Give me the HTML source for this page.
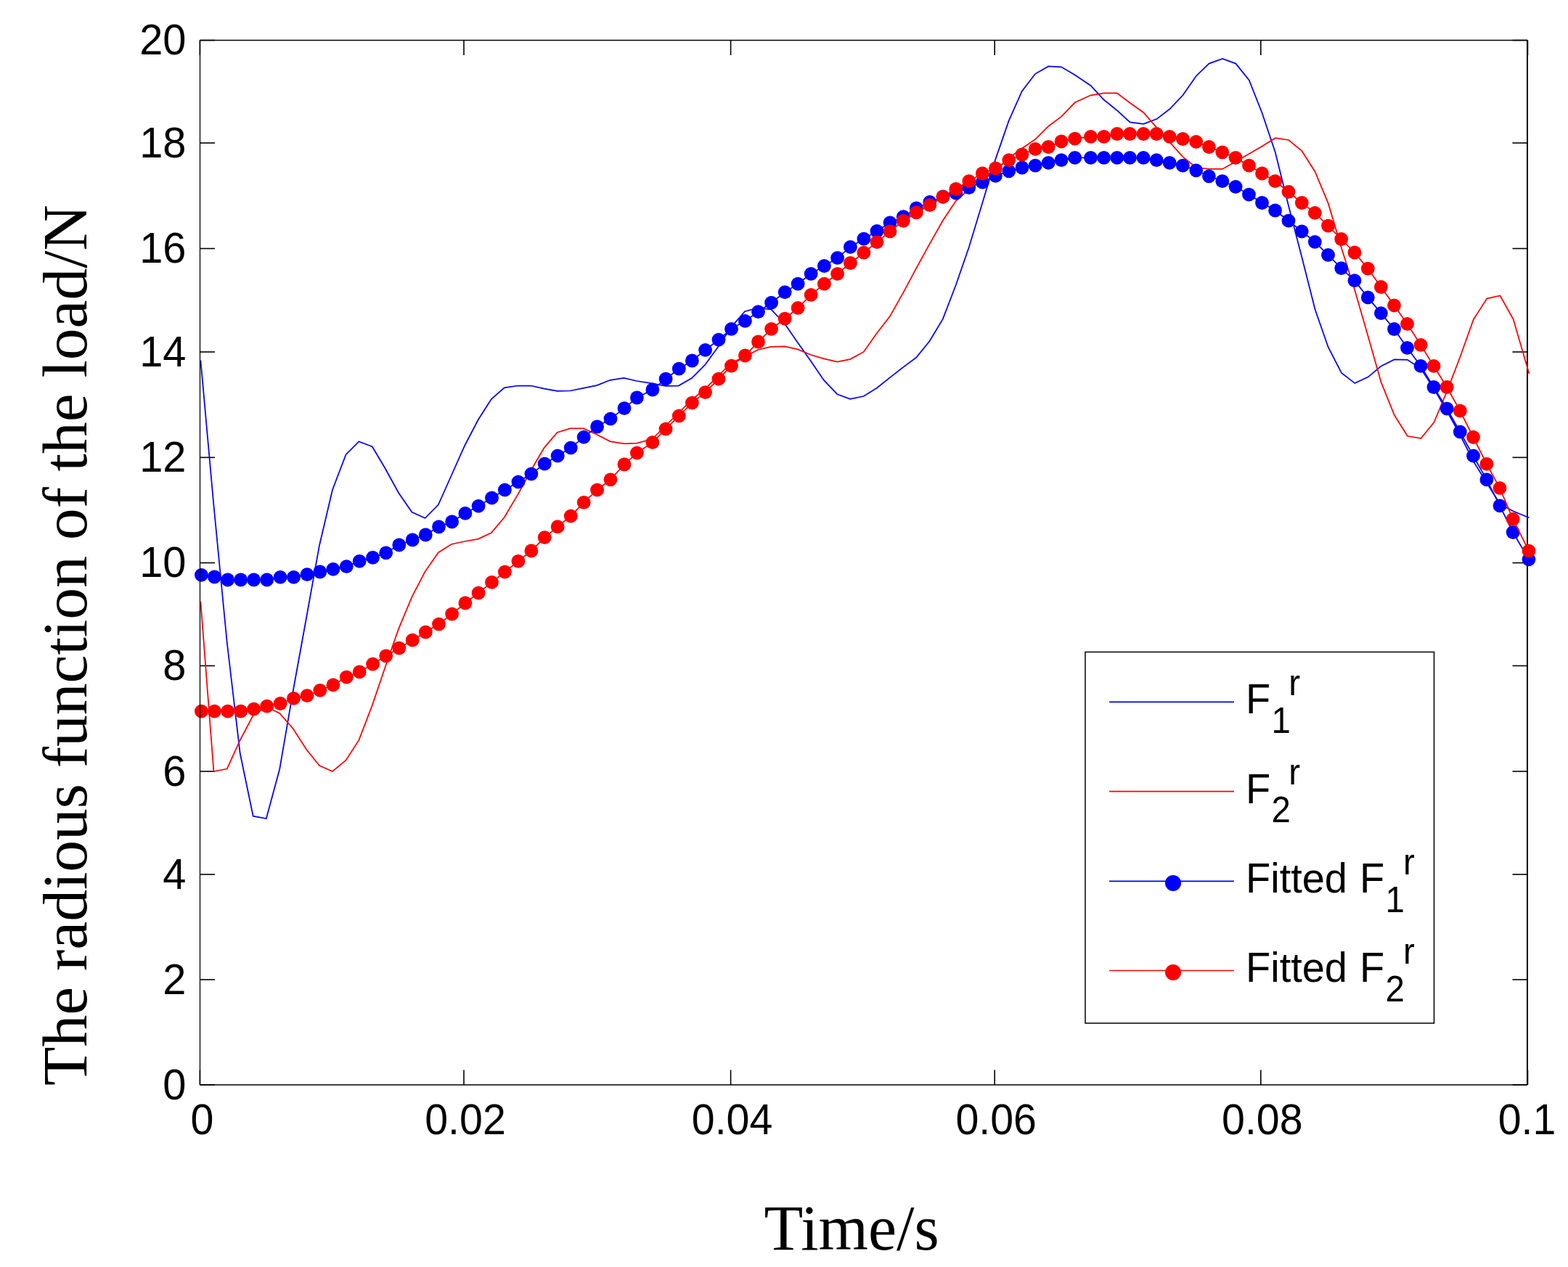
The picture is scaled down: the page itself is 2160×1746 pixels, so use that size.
<!DOCTYPE html>
<html><head><meta charset="utf-8"><title>Radious function of the load</title><style>
html,body{margin:0;padding:0;background:#fff;width:2160px;height:1746px;overflow:hidden}
svg{display:block}
.sans{font-family:"Liberation Sans",Arial,Helvetica,sans-serif}
.serif{font-family:"Liberation Serif","Times New Roman",Times,serif}
</style></head><body>
<svg width="2160" height="1746" viewBox="0 0 2160 1746">
<rect x="0" y="0" width="2160" height="1746" fill="#fff"/>
<g stroke="#000" fill="none">
<line x1="275.5" y1="55.5" x2="2104" y2="55.5" stroke-width="1.3"/>
<line x1="275.5" y1="1495" x2="2104" y2="1495" stroke-width="1.3"/>
<line x1="2104" y1="55.5" x2="2104" y2="1495" stroke-width="2"/>
<line x1="275.5" y1="55.5" x2="296.0" y2="55.5" stroke-width="1.6"/>
<line x1="2104" y1="55.5" x2="2083.5" y2="55.5" stroke-width="1.6"/>
<line x1="275.5" y1="197" x2="296.0" y2="197" stroke-width="1.6"/>
<line x1="2104" y1="197" x2="2083.5" y2="197" stroke-width="1.6"/>
<line x1="275.5" y1="342.5" x2="296.0" y2="342.5" stroke-width="1.6"/>
<line x1="2104" y1="342.5" x2="2083.5" y2="342.5" stroke-width="1.6"/>
<line x1="275.5" y1="485" x2="296.0" y2="485" stroke-width="1.6"/>
<line x1="2104" y1="485" x2="2083.5" y2="485" stroke-width="1.6"/>
<line x1="275.5" y1="630.4" x2="296.0" y2="630.4" stroke-width="1.6"/>
<line x1="2104" y1="630.4" x2="2083.5" y2="630.4" stroke-width="1.6"/>
<line x1="275.5" y1="775.6" x2="296.0" y2="775.6" stroke-width="1.6"/>
<line x1="2104" y1="775.6" x2="2083.5" y2="775.6" stroke-width="1.6"/>
<line x1="275.5" y1="917.5" x2="296.0" y2="917.5" stroke-width="1.6"/>
<line x1="2104" y1="917.5" x2="2083.5" y2="917.5" stroke-width="1.6"/>
<line x1="275.5" y1="1063" x2="296.0" y2="1063" stroke-width="1.6"/>
<line x1="2104" y1="1063" x2="2083.5" y2="1063" stroke-width="1.6"/>
<line x1="275.5" y1="1205" x2="296.0" y2="1205" stroke-width="1.6"/>
<line x1="2104" y1="1205" x2="2083.5" y2="1205" stroke-width="1.6"/>
<line x1="275.5" y1="1350" x2="296.0" y2="1350" stroke-width="1.6"/>
<line x1="2104" y1="1350" x2="2083.5" y2="1350" stroke-width="1.6"/>
<line x1="275.5" y1="1495" x2="296.0" y2="1495" stroke-width="1.6"/>
<line x1="2104" y1="1495" x2="2083.5" y2="1495" stroke-width="1.6"/>
<line x1="275.4" y1="1495" x2="275.4" y2="1474.5" stroke-width="1.6"/>
<line x1="275.4" y1="55.5" x2="275.4" y2="76.0" stroke-width="1.6"/>
<line x1="639" y1="1495" x2="639" y2="1474.5" stroke-width="1.6"/>
<line x1="639" y1="55.5" x2="639" y2="76.0" stroke-width="1.6"/>
<line x1="1006.6" y1="1495" x2="1006.6" y2="1474.5" stroke-width="1.6"/>
<line x1="1006.6" y1="55.5" x2="1006.6" y2="76.0" stroke-width="1.6"/>
<line x1="1370.2" y1="1495" x2="1370.2" y2="1474.5" stroke-width="1.6"/>
<line x1="1370.2" y1="55.5" x2="1370.2" y2="76.0" stroke-width="1.6"/>
<line x1="1736.8" y1="1495" x2="1736.8" y2="1474.5" stroke-width="1.6"/>
<line x1="1736.8" y1="55.5" x2="1736.8" y2="76.0" stroke-width="1.6"/>
<line x1="2104.5" y1="1495" x2="2104.5" y2="1474.5" stroke-width="1.6"/>
<line x1="2104.5" y1="55.5" x2="2104.5" y2="76.0" stroke-width="1.6"/>
</g>
<g fill="none" stroke-linejoin="miter" stroke-linecap="butt">
<polyline points="276.4,496.6 294.4,696.0 312.7,885.0 330.7,1038.0 348.7,1124.7 366.8,1128.0 385.2,1060.0 403.6,953.0 422.1,851.0 439.9,752.0 458.0,675.0 476.5,626.5 494.4,608.5 512.8,615.5 530.9,646.0 549.0,679.0 567.4,705.8 585.6,714.0 603.8,695.6 621.9,655.0 640.2,614.0 658.4,579.0 676.8,550.0 694.7,534.4 713.3,531.5 731.3,531.5 749.6,535.7 767.6,538.9 785.7,538.5 803.6,534.8 822.1,531.1 840.5,523.8 859.5,521.0 876.9,525.0 898.4,528.3 916.6,531.8 934.8,531.6 953.0,521.0 971.2,502.8 989.6,477.5 1007.1,451.0 1026.0,429.2 1044.1,424.4 1062.2,426.3 1080.9,446.0 1098.8,472.0 1116.9,497.6 1135.1,524.2 1153.3,543.2 1171.1,549.9 1189.7,546.0 1207.8,534.7 1225.8,520.4 1244.1,506.1 1262.1,492.8 1280.6,470.0 1298.8,439.6 1316.7,393.0 1334.7,341.0 1353.2,280.0 1371.3,219.6 1389.7,166.4 1407.8,125.6 1426.1,101.8 1444.2,91.4 1462.1,92.3 1480.7,103.3 1502.5,118.0 1520.6,137.5 1538.8,152.2 1556.5,168.3 1575.2,170.8 1593.3,164.1 1611.3,150.3 1629.4,131.3 1647.8,104.7 1665.5,87.6 1684.0,80.9 1702.3,87.6 1720.7,110.4 1738.7,156.0 1756.8,210.0 1775.2,284.3 1793.5,355.0 1811.6,426.5 1829.8,478.7 1848.0,513.9 1866.3,528.1 1884.6,519.6 1902.7,504.4 1920.8,495.5 1938.9,495.8 1957.5,508.2 1975.4,535.7 1993.6,567.0 2011.7,600.0 2029.9,636.0 2048.4,666.0 2066.5,694.8 2084.7,704.5 2106.5,713.5" stroke="#0000ff" stroke-width="1.75"/>
<polyline points="276.4,829.0 294.4,1063.0 312.7,1059.5 330.7,1020.0 348.7,985.8 366.8,974.0 385.2,983.0 403.6,1004.0 422.1,1032.8 439.9,1055.0 458.0,1063.0 476.5,1047.6 494.4,1019.9 512.8,971.9 530.9,918.5 549.0,866.9 567.4,822.7 585.6,787.6 603.8,761.5 621.9,750.0 640.2,746.0 658.4,742.8 676.8,734.2 694.7,713.0 713.3,681.6 731.3,648.5 749.6,617.1 767.6,596.0 785.7,590.4 803.6,590.4 822.1,598.7 840.5,608.3 859.5,611.4 876.9,610.8 898.4,605.0 916.6,587.0 934.8,569.0 953.0,551.0 971.2,536.0 989.6,518.0 1007.1,500.0 1026.0,491.7 1044.1,482.0 1062.2,477.8 1080.9,477.5 1098.8,481.4 1116.9,489.0 1135.1,494.4 1153.3,498.5 1171.1,495.1 1189.7,484.9 1207.8,459.3 1225.8,436.1 1244.1,403.6 1262.1,369.9 1280.6,336.1 1298.8,304.0 1316.7,277.0 1334.7,261.0 1353.2,247.2 1371.3,234.8 1389.7,217.7 1407.8,204.4 1426.1,192.1 1444.2,174.0 1462.1,160.7 1480.7,141.3 1502.5,131.3 1520.6,128.4 1538.8,128.4 1556.5,141.7 1575.2,155.0 1593.3,175.9 1611.3,195.9 1629.4,216.2 1647.8,231.0 1665.5,232.9 1684.0,232.9 1702.3,222.5 1720.7,212.0 1738.7,201.6 1756.8,190.2 1775.2,193.0 1793.5,208.2 1811.6,236.7 1829.8,280.4 1848.0,342.0 1866.3,399.9 1884.6,463.5 1902.7,527.2 1920.8,572.0 1938.9,601.0 1957.5,604.0 1975.4,582.0 1993.6,538.5 2011.7,491.0 2029.9,440.0 2048.4,411.3 2066.5,407.5 2084.7,440.0 2106.5,515.0" stroke="#ff0000" stroke-width="1.75"/>
<polyline points="277.4,792.3 295.4,795.0 313.7,799.0 331.7,799.0 349.6,799.0 367.7,799.0 386.1,795.4 404.5,795.4 423.0,791.7 440.8,788.0 458.9,784.3 477.3,780.6 495.2,773.3 513.6,768.3 531.7,761.8 549.8,751.0 568.2,744.0 586.3,737.0 604.5,726.0 622.6,719.0 640.9,707.4 659.1,697.3 677.5,686.2 695.4,675.2 713.9,664.1 731.9,653.1 750.2,639.2 768.2,628.2 786.3,617.1 804.2,602.4 822.6,588.0 841.0,577.1 860.0,562.6 877.4,548.0 898.9,537.0 917.1,522.2 935.3,508.2 953.4,497.0 971.6,482.3 990.0,468.1 1007.5,453.3 1026.4,442.3 1044.5,429.7 1062.6,417.2 1081.2,402.6 1099.1,391.2 1117.2,377.3 1135.4,366.5 1153.6,355.4 1171.4,340.4 1189.9,329.2 1208.0,318.5 1226.0,306.8 1244.3,298.7 1262.3,286.9 1280.8,278.5 1299.0,271.0 1316.8,266.0 1334.8,258.5 1353.3,251.0 1371.4,242.4 1389.8,235.8 1407.9,231.0 1426.2,228.2 1444.2,224.4 1462.1,220.6 1480.7,217.4 1502.5,217.4 1520.6,217.4 1538.8,217.4 1556.5,217.4 1575.1,217.4 1593.2,220.6 1611.2,224.4 1629.3,228.2 1647.7,234.8 1665.4,242.8 1683.8,249.7 1702.1,257.3 1720.5,268.1 1738.5,279.5 1756.6,290.0 1775.0,304.2 1793.3,318.8 1811.3,333.3 1829.5,351.4 1847.7,369.7 1866.0,386.7 1884.3,409.9 1902.4,431.6 1920.5,453.5 1938.5,479.3 1957.1,504.4 1975.0,533.5 1993.2,563.2 2011.3,595.2 2029.5,628.2 2047.9,660.9 2066.0,696.9 2084.2,733.5 2106.0,770.8" stroke="#0000ff" stroke-width="1.75"/>
<g fill="#0000ff" stroke="none"><circle cx="277.4" cy="792.3" r="9.4"/><circle cx="295.4" cy="795.0" r="9.4"/><circle cx="313.7" cy="799.0" r="9.4"/><circle cx="331.7" cy="799.0" r="9.4"/><circle cx="349.6" cy="799.0" r="9.4"/><circle cx="367.7" cy="799.0" r="9.4"/><circle cx="386.1" cy="795.4" r="9.4"/><circle cx="404.5" cy="795.4" r="9.4"/><circle cx="423.0" cy="791.7" r="9.4"/><circle cx="440.8" cy="788.0" r="9.4"/><circle cx="458.9" cy="784.3" r="9.4"/><circle cx="477.3" cy="780.6" r="9.4"/><circle cx="495.2" cy="773.3" r="9.4"/><circle cx="513.6" cy="768.3" r="9.4"/><circle cx="531.7" cy="761.8" r="9.4"/><circle cx="549.8" cy="751.0" r="9.4"/><circle cx="568.2" cy="744.0" r="9.4"/><circle cx="586.3" cy="737.0" r="9.4"/><circle cx="604.5" cy="726.0" r="9.4"/><circle cx="622.6" cy="719.0" r="9.4"/><circle cx="640.9" cy="707.4" r="9.4"/><circle cx="659.1" cy="697.3" r="9.4"/><circle cx="677.5" cy="686.2" r="9.4"/><circle cx="695.4" cy="675.2" r="9.4"/><circle cx="713.9" cy="664.1" r="9.4"/><circle cx="731.9" cy="653.1" r="9.4"/><circle cx="750.2" cy="639.2" r="9.4"/><circle cx="768.2" cy="628.2" r="9.4"/><circle cx="786.3" cy="617.1" r="9.4"/><circle cx="804.2" cy="602.4" r="9.4"/><circle cx="822.6" cy="588.0" r="9.4"/><circle cx="841.0" cy="577.1" r="9.4"/><circle cx="860.0" cy="562.6" r="9.4"/><circle cx="877.4" cy="548.0" r="9.4"/><circle cx="898.9" cy="537.0" r="9.4"/><circle cx="917.1" cy="522.2" r="9.4"/><circle cx="935.3" cy="508.2" r="9.4"/><circle cx="953.4" cy="497.0" r="9.4"/><circle cx="971.6" cy="482.3" r="9.4"/><circle cx="990.0" cy="468.1" r="9.4"/><circle cx="1007.5" cy="453.3" r="9.4"/><circle cx="1026.4" cy="442.3" r="9.4"/><circle cx="1044.5" cy="429.7" r="9.4"/><circle cx="1062.6" cy="417.2" r="9.4"/><circle cx="1081.2" cy="402.6" r="9.4"/><circle cx="1099.1" cy="391.2" r="9.4"/><circle cx="1117.2" cy="377.3" r="9.4"/><circle cx="1135.4" cy="366.5" r="9.4"/><circle cx="1153.6" cy="355.4" r="9.4"/><circle cx="1171.4" cy="340.4" r="9.4"/><circle cx="1189.9" cy="329.2" r="9.4"/><circle cx="1208.0" cy="318.5" r="9.4"/><circle cx="1226.0" cy="306.8" r="9.4"/><circle cx="1244.3" cy="298.7" r="9.4"/><circle cx="1262.3" cy="286.9" r="9.4"/><circle cx="1280.8" cy="278.5" r="9.4"/><circle cx="1299.0" cy="271.0" r="9.4"/><circle cx="1316.8" cy="266.0" r="9.4"/><circle cx="1334.8" cy="258.5" r="9.4"/><circle cx="1353.3" cy="251.0" r="9.4"/><circle cx="1371.4" cy="242.4" r="9.4"/><circle cx="1389.8" cy="235.8" r="9.4"/><circle cx="1407.9" cy="231.0" r="9.4"/><circle cx="1426.2" cy="228.2" r="9.4"/><circle cx="1444.2" cy="224.4" r="9.4"/><circle cx="1462.1" cy="220.6" r="9.4"/><circle cx="1480.7" cy="217.4" r="9.4"/><circle cx="1502.5" cy="217.4" r="9.4"/><circle cx="1520.6" cy="217.4" r="9.4"/><circle cx="1538.8" cy="217.4" r="9.4"/><circle cx="1556.5" cy="217.4" r="9.4"/><circle cx="1575.1" cy="217.4" r="9.4"/><circle cx="1593.2" cy="220.6" r="9.4"/><circle cx="1611.2" cy="224.4" r="9.4"/><circle cx="1629.3" cy="228.2" r="9.4"/><circle cx="1647.7" cy="234.8" r="9.4"/><circle cx="1665.4" cy="242.8" r="9.4"/><circle cx="1683.8" cy="249.7" r="9.4"/><circle cx="1702.1" cy="257.3" r="9.4"/><circle cx="1720.5" cy="268.1" r="9.4"/><circle cx="1738.5" cy="279.5" r="9.4"/><circle cx="1756.6" cy="290.0" r="9.4"/><circle cx="1775.0" cy="304.2" r="9.4"/><circle cx="1793.3" cy="318.8" r="9.4"/><circle cx="1811.3" cy="333.3" r="9.4"/><circle cx="1829.5" cy="351.4" r="9.4"/><circle cx="1847.7" cy="369.7" r="9.4"/><circle cx="1866.0" cy="386.7" r="9.4"/><circle cx="1884.3" cy="409.9" r="9.4"/><circle cx="1902.4" cy="431.6" r="9.4"/><circle cx="1920.5" cy="453.5" r="9.4"/><circle cx="1938.5" cy="479.3" r="9.4"/><circle cx="1957.1" cy="504.4" r="9.4"/><circle cx="1975.0" cy="533.5" r="9.4"/><circle cx="1993.2" cy="563.2" r="9.4"/><circle cx="2011.3" cy="595.2" r="9.4"/><circle cx="2029.5" cy="628.2" r="9.4"/><circle cx="2047.9" cy="660.9" r="9.4"/><circle cx="2066.0" cy="696.9" r="9.4"/><circle cx="2084.2" cy="733.5" r="9.4"/><circle cx="2106.0" cy="770.8" r="9.4"/></g>
<polyline points="277.4,980.2 295.4,980.2 313.7,980.2 331.7,980.2 349.6,977.1 367.7,973.2 386.1,969.5 404.5,962.4 423.0,958.7 440.8,951.3 458.9,943.9 477.3,933.2 495.2,925.9 513.6,915.2 531.7,903.8 549.8,893.1 568.2,882.2 586.3,871.1 604.5,860.1 622.6,846.1 640.9,831.0 659.1,817.1 677.5,802.4 695.4,788.2 713.9,773.4 731.9,759.0 750.2,740.6 768.2,725.9 786.3,711.1 804.2,692.3 822.6,675.2 841.0,660.8 860.0,640.0 877.4,624.1 898.9,609.7 917.1,591.2 935.3,573.2 953.4,555.1 971.6,540.6 990.0,522.2 1007.5,504.1 1026.4,490.0 1044.5,471.0 1062.6,453.3 1081.2,439.2 1099.1,424.4 1117.2,406.4 1135.4,391.2 1153.6,377.3 1171.4,362.5 1189.9,348.2 1208.0,333.6 1226.0,318.9 1244.3,304.3 1262.3,292.9 1280.8,282.7 1299.0,271.3 1316.8,260.5 1334.8,249.7 1353.3,239.0 1371.4,232.0 1389.8,220.6 1407.9,213.0 1426.2,205.4 1444.2,202.5 1462.1,194.9 1480.7,191.1 1502.5,188.3 1520.6,188.3 1538.8,184.5 1556.5,184.5 1575.1,184.5 1593.2,184.5 1611.2,188.3 1629.3,191.5 1647.7,195.3 1665.4,202.5 1683.8,209.8 1702.1,217.4 1720.5,228.2 1738.5,239.0 1756.6,249.7 1775.0,264.3 1793.3,279.5 1811.3,293.4 1829.5,311.2 1847.7,329.5 1866.0,348.0 1884.3,370.1 1902.4,395.5 1920.5,420.8 1938.5,446.4 1957.1,475.3 1975.0,504.4 1993.2,533.5 2011.3,566.2 2029.5,602.5 2047.9,639.4 2066.0,672.7 2084.2,715.5 2106.0,759.1" stroke="#ff0000" stroke-width="1.75"/>
<g fill="#ff0000" stroke="none"><circle cx="277.4" cy="980.2" r="9.4"/><circle cx="295.4" cy="980.2" r="9.4"/><circle cx="313.7" cy="980.2" r="9.4"/><circle cx="331.7" cy="980.2" r="9.4"/><circle cx="349.6" cy="977.1" r="9.4"/><circle cx="367.7" cy="973.2" r="9.4"/><circle cx="386.1" cy="969.5" r="9.4"/><circle cx="404.5" cy="962.4" r="9.4"/><circle cx="423.0" cy="958.7" r="9.4"/><circle cx="440.8" cy="951.3" r="9.4"/><circle cx="458.9" cy="943.9" r="9.4"/><circle cx="477.3" cy="933.2" r="9.4"/><circle cx="495.2" cy="925.9" r="9.4"/><circle cx="513.6" cy="915.2" r="9.4"/><circle cx="531.7" cy="903.8" r="9.4"/><circle cx="549.8" cy="893.1" r="9.4"/><circle cx="568.2" cy="882.2" r="9.4"/><circle cx="586.3" cy="871.1" r="9.4"/><circle cx="604.5" cy="860.1" r="9.4"/><circle cx="622.6" cy="846.1" r="9.4"/><circle cx="640.9" cy="831.0" r="9.4"/><circle cx="659.1" cy="817.1" r="9.4"/><circle cx="677.5" cy="802.4" r="9.4"/><circle cx="695.4" cy="788.2" r="9.4"/><circle cx="713.9" cy="773.4" r="9.4"/><circle cx="731.9" cy="759.0" r="9.4"/><circle cx="750.2" cy="740.6" r="9.4"/><circle cx="768.2" cy="725.9" r="9.4"/><circle cx="786.3" cy="711.1" r="9.4"/><circle cx="804.2" cy="692.3" r="9.4"/><circle cx="822.6" cy="675.2" r="9.4"/><circle cx="841.0" cy="660.8" r="9.4"/><circle cx="860.0" cy="640.0" r="9.4"/><circle cx="877.4" cy="624.1" r="9.4"/><circle cx="898.9" cy="609.7" r="9.4"/><circle cx="917.1" cy="591.2" r="9.4"/><circle cx="935.3" cy="573.2" r="9.4"/><circle cx="953.4" cy="555.1" r="9.4"/><circle cx="971.6" cy="540.6" r="9.4"/><circle cx="990.0" cy="522.2" r="9.4"/><circle cx="1007.5" cy="504.1" r="9.4"/><circle cx="1026.4" cy="490.0" r="9.4"/><circle cx="1044.5" cy="471.0" r="9.4"/><circle cx="1062.6" cy="453.3" r="9.4"/><circle cx="1081.2" cy="439.2" r="9.4"/><circle cx="1099.1" cy="424.4" r="9.4"/><circle cx="1117.2" cy="406.4" r="9.4"/><circle cx="1135.4" cy="391.2" r="9.4"/><circle cx="1153.6" cy="377.3" r="9.4"/><circle cx="1171.4" cy="362.5" r="9.4"/><circle cx="1189.9" cy="348.2" r="9.4"/><circle cx="1208.0" cy="333.6" r="9.4"/><circle cx="1226.0" cy="318.9" r="9.4"/><circle cx="1244.3" cy="304.3" r="9.4"/><circle cx="1262.3" cy="292.9" r="9.4"/><circle cx="1280.8" cy="282.7" r="9.4"/><circle cx="1299.0" cy="271.3" r="9.4"/><circle cx="1316.8" cy="260.5" r="9.4"/><circle cx="1334.8" cy="249.7" r="9.4"/><circle cx="1353.3" cy="239.0" r="9.4"/><circle cx="1371.4" cy="232.0" r="9.4"/><circle cx="1389.8" cy="220.6" r="9.4"/><circle cx="1407.9" cy="213.0" r="9.4"/><circle cx="1426.2" cy="205.4" r="9.4"/><circle cx="1444.2" cy="202.5" r="9.4"/><circle cx="1462.1" cy="194.9" r="9.4"/><circle cx="1480.7" cy="191.1" r="9.4"/><circle cx="1502.5" cy="188.3" r="9.4"/><circle cx="1520.6" cy="188.3" r="9.4"/><circle cx="1538.8" cy="184.5" r="9.4"/><circle cx="1556.5" cy="184.5" r="9.4"/><circle cx="1575.1" cy="184.5" r="9.4"/><circle cx="1593.2" cy="184.5" r="9.4"/><circle cx="1611.2" cy="188.3" r="9.4"/><circle cx="1629.3" cy="191.5" r="9.4"/><circle cx="1647.7" cy="195.3" r="9.4"/><circle cx="1665.4" cy="202.5" r="9.4"/><circle cx="1683.8" cy="209.8" r="9.4"/><circle cx="1702.1" cy="217.4" r="9.4"/><circle cx="1720.5" cy="228.2" r="9.4"/><circle cx="1738.5" cy="239.0" r="9.4"/><circle cx="1756.6" cy="249.7" r="9.4"/><circle cx="1775.0" cy="264.3" r="9.4"/><circle cx="1793.3" cy="279.5" r="9.4"/><circle cx="1811.3" cy="293.4" r="9.4"/><circle cx="1829.5" cy="311.2" r="9.4"/><circle cx="1847.7" cy="329.5" r="9.4"/><circle cx="1866.0" cy="348.0" r="9.4"/><circle cx="1884.3" cy="370.1" r="9.4"/><circle cx="1902.4" cy="395.5" r="9.4"/><circle cx="1920.5" cy="420.8" r="9.4"/><circle cx="1938.5" cy="446.4" r="9.4"/><circle cx="1957.1" cy="475.3" r="9.4"/><circle cx="1975.0" cy="504.4" r="9.4"/><circle cx="1993.2" cy="533.5" r="9.4"/><circle cx="2011.3" cy="566.2" r="9.4"/><circle cx="2029.5" cy="602.5" r="9.4"/><circle cx="2047.9" cy="639.4" r="9.4"/><circle cx="2066.0" cy="672.7" r="9.4"/><circle cx="2084.2" cy="715.5" r="9.4"/><circle cx="2106.0" cy="759.1" r="9.4"/></g>
</g>
<line x1="275.5" y1="55.5" x2="275.5" y2="1495" stroke="#000" stroke-width="1.3"/>
<g class="sans" font-size="57.8" fill="#000" text-anchor="end">
<text x="256.5" y="75.1" transform="matrix(1,0,0,1.03,0,-2.25)">20</text>
<text x="256.5" y="216.6" transform="matrix(1,0,0,1.03,0,-6.50)">18</text>
<text x="256.5" y="362.1" transform="matrix(1,0,0,1.03,0,-10.86)">16</text>
<text x="256.5" y="504.6" transform="matrix(1,0,0,1.03,0,-15.14)">14</text>
<text x="256.5" y="650.0" transform="matrix(1,0,0,1.03,0,-19.50)">12</text>
<text x="256.5" y="795.2" transform="matrix(1,0,0,1.03,0,-23.86)">10</text>
<text x="256.5" y="937.1" transform="matrix(1,0,0,1.03,0,-28.11)">8</text>
<text x="256.5" y="1082.6" transform="matrix(1,0,0,1.03,0,-32.48)">6</text>
<text x="256.5" y="1224.6" transform="matrix(1,0,0,1.03,0,-36.74)">4</text>
<text x="256.5" y="1369.6" transform="matrix(1,0,0,1.03,0,-41.09)">2</text>
<text x="256.5" y="1514.6" transform="matrix(1,0,0,1.03,0,-45.44)">0</text>
</g>
<g class="sans" font-size="57.3" fill="#000" text-anchor="middle">
<text x="278.4" y="1563" transform="matrix(1,0,0,1.03,0,-46.89)">0</text>
<text x="641.0" y="1563" transform="matrix(1,0,0,1.03,0,-46.89)">0.02</text>
<text x="1008.6" y="1563" transform="matrix(1,0,0,1.03,0,-46.89)">0.04</text>
<text x="1372.2" y="1563" transform="matrix(1,0,0,1.03,0,-46.89)">0.06</text>
<text x="1738.8" y="1563" transform="matrix(1,0,0,1.03,0,-46.89)">0.08</text>
<text x="2103.5" y="1563" transform="matrix(1,0,0,1.03,0,-46.89)">0.1</text>
</g>
<text class="serif" font-size="87.6" fill="#000" transform="translate(119,1496) rotate(-90)">The radious function of the load/N</text>
<text class="serif" font-size="88" fill="#000" x="1052.5" y="1722">Time/s</text>
<rect x="1495" y="898.5" width="480.5" height="511.5" fill="#fff" stroke="#000" stroke-width="1.5"/>
<line x1="1528" y1="967.4" x2="1700" y2="967.4" stroke="#0000ff" stroke-width="1.6"/>
<line x1="1528" y1="1090.6" x2="1700" y2="1090.6" stroke="#ff0000" stroke-width="1.6"/>
<line x1="1528" y1="1214.4" x2="1700" y2="1214.4" stroke="#0000ff" stroke-width="1.6"/>
<circle cx="1616" cy="1216.9" r="11" fill="#0000ff"/>
<line x1="1528" y1="1337.5" x2="1700" y2="1337.5" stroke="#ff0000" stroke-width="1.6"/>
<circle cx="1616" cy="1340.0" r="11" fill="#ff0000"/>
<text class="sans" font-size="56" fill="#000" x="1716" y="983.4" transform="matrix(1,0,0,1.035,0,-34.42)">F<tspan font-size="47.5" x="1751.6" dy="26">1</tspan><tspan font-size="47.5" x="1775.2" dy="-51">r</tspan></text>
<text class="sans" font-size="56" fill="#000" x="1716" y="1106.6" transform="matrix(1,0,0,1.035,0,-38.73)">F<tspan font-size="47.5" x="1751.6" dy="26">2</tspan><tspan font-size="47.5" x="1775.2" dy="-51">r</tspan></text>
<text class="sans" font-size="56" fill="#000" x="1716" y="1230.4" transform="matrix(1,0,0,1.035,0,-43.06)"><tspan>Fitted </tspan><tspan x="1872.9">F</tspan><tspan font-size="47.5" x="1908.4" dy="26">1</tspan><tspan font-size="47.5" x="1933.1" dy="-51">r</tspan></text>
<text class="sans" font-size="56" fill="#000" x="1716" y="1353.5" transform="matrix(1,0,0,1.035,0,-47.37)"><tspan>Fitted </tspan><tspan x="1872.9">F</tspan><tspan font-size="47.5" x="1908.4" dy="26">2</tspan><tspan font-size="47.5" x="1933.1" dy="-51">r</tspan></text>
</svg></body></html>
